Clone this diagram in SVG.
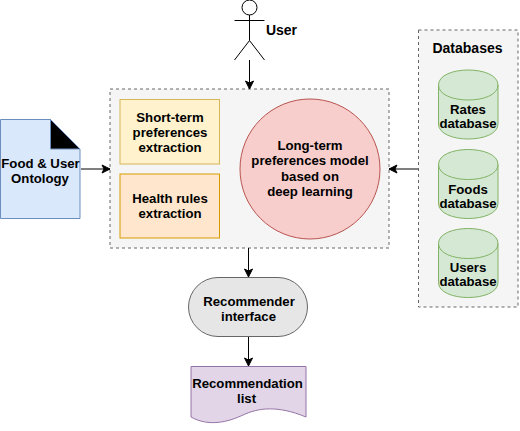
<svg xmlns="http://www.w3.org/2000/svg" width="520" height="431" viewBox="0 0 520 431">
<defs>
<marker id="arrow" markerUnits="userSpaceOnUse" markerWidth="10" markerHeight="10" refX="9" refY="5" orient="auto"><path d="M1,1 L9,5 L1,9 L3,5 Z" fill="#000" stroke="#000" stroke-width="1"/></marker>
</defs>
<style>
text{font-family:"Liberation Sans",Arial,sans-serif;font-size:13.2px;font-weight:bold;fill:#000;text-anchor:middle}
.big{font-size:14px}
.dash{fill:#f5f5f5;stroke:#666;stroke-width:1;stroke-dasharray:3 3}
.db{fill:#d5e8d4;stroke:#82b366;stroke-width:1}
.conn{fill:none;stroke:#000;stroke-width:1;marker-end:url(#arrow)}
</style>
<rect width="520" height="431" fill="#fff"/>
<g id="system"><rect class="dash" x="110" y="89" width="279" height="159"/></g>
<g id="short-term"><rect x="120" y="99.500" width="99.500" height="64.500" fill="#fff2cc" stroke="#d6b656"/><text x="170" y="122">Short-term</text><text x="170" y="137">preferences</text><text x="170" y="152">extraction</text></g>
<g id="health-rules"><rect x="120" y="174" width="99.500" height="64" fill="#ffe6cc" stroke="#d79b00"/><text x="170" y="203">Health rules</text><text x="170" y="218">extraction</text></g>
<g id="long-term"><circle cx="310" cy="169" r="70" fill="#f8cecc" stroke="#b85450"/><text x="310" y="150">Long-term</text><text x="310" y="165">preferences model</text><text x="310" y="181">based on</text><text x="310" y="196">deep learning</text></g>
<g id="user"><circle cx="249.500" cy="7.500" r="7.500" fill="#fff" stroke="#000"/><path d="M249.500,15 V40.500 M234.500,20.500 H264.500 M249.500,40.500 L234.500,60 M249.500,40.500 L264.500,60" fill="none" stroke="#000"/><text class="big" x="281.500" y="35">User</text></g>
<g id="ontology"><path d="M0.500,119.500 H50.500 L80,149 V218.500 H0.500 Z" fill="#dae8fc" stroke="#6c8ebf"/><path d="M50.500,119.500 L80,149 H50.500 Z" fill="#000" stroke="#6c8ebf"/><text x="40.500" y="168">Food &amp; User</text><text x="40" y="183">Ontology</text></g>
<g id="databases"><rect class="dash" x="418.500" y="30" width="99.500" height="277"/><text class="big" x="467.500" y="53">Databases</text></g>
<g id="rates-db"><path class="db" d="M438.500,85 C438.500,65 498,65 498,85 V124 C498,144 438.500,144 438.500,124 Z"/><path class="db" style="fill:none" d="M438.500,85 C438.500,105 498,105 498,85"/><text x="468" y="114">Rates</text><text x="468" y="128">database</text></g>
<g id="foods-db"><path class="db" d="M438.500,164.500 C438.500,144.500 498,144.500 498,164.500 V203.500 C498,223.500 438.500,223.500 438.500,203.500 Z"/><path class="db" style="fill:none" d="M438.500,164.500 C438.500,184.500 498,184.500 498,164.500"/><text x="468" y="193.500">Foods</text><text x="468" y="207.500">database</text></g>
<g id="users-db"><path class="db" d="M438.500,243.500 C438.500,223.500 498,223.500 498,243.500 V282.500 C498,302.500 438.500,302.500 438.500,282.500 Z"/><path class="db" style="fill:none" d="M438.500,243.500 C438.500,263.500 498,263.500 498,243.500"/><text x="468" y="272">Users</text><text x="468" y="286">database</text></g>
<g id="recommender"><rect x="188.500" y="277.500" width="119" height="59" rx="29.500" fill="#e6e6e6" stroke="#666"/><text x="249" y="306">Recommender</text><text x="248.500" y="321">interface</text></g>
<g id="list"><path d="M191,366.500 H306 V417 C277,405 258,408 243,415 C228,422 209,427 191,417 Z" fill="#e1d5e7" stroke="#9673a6"/><text x="247.500" y="388">Recommendation</text><text x="246.500" y="403">list</text></g>
<g id="connectors">
<path class="conn" d="M249.500,60 V89"/>
<path class="conn" d="M81,169 H110"/>
<path class="conn" d="M418,169 H389"/>
<path class="conn" d="M248.500,248 V277"/>
<path class="conn" d="M248.500,337 V366"/>
</g>
</svg>
